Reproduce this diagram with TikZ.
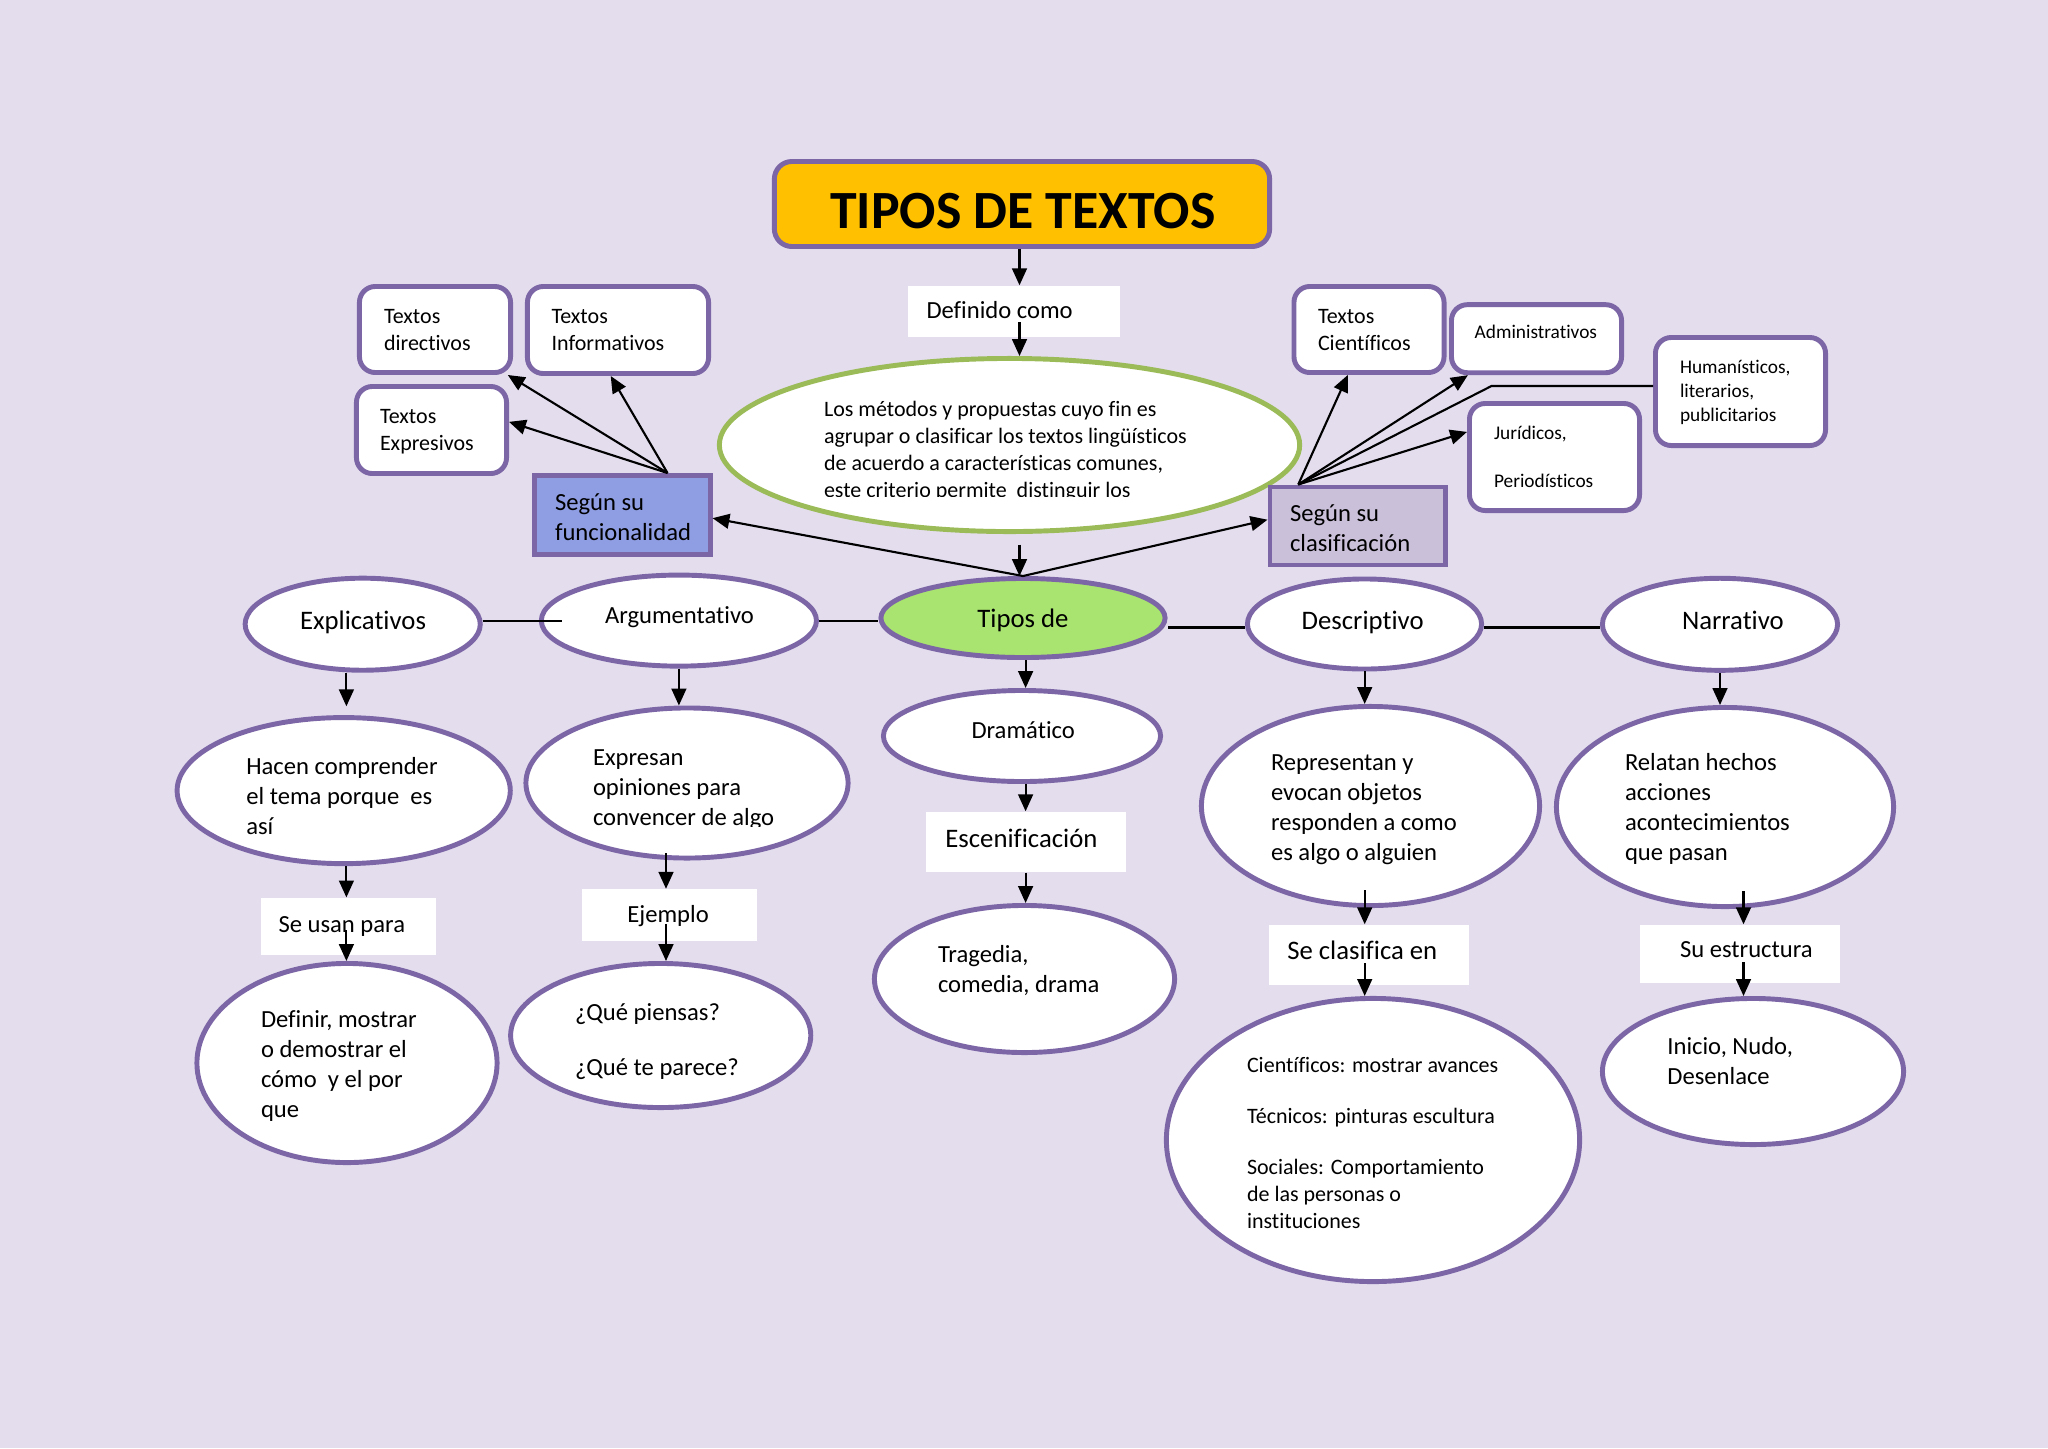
\documentclass[tikz,border=0pt]{standalone}
\usepackage{fontspec}
\setmainfont{Carlito}[Ligatures=NoCommon]
\usepackage{tikz}
\usetikzlibrary{arrows.meta, positioning, shapes.geometric}

\definecolor{bgpurple}{HTML}{E3DDEE}
\definecolor{linepurple}{HTML}{7C66A6}
\definecolor{linegreen}{HTML}{9BBB59}
\definecolor{titleorange}{HTML}{FFC000}
\definecolor{funcblue}{HTML}{8F9EE3}
\definecolor{clasmauve}{HTML}{CBC0DA}
\definecolor{tiposgreen}{HTML}{A8E46F}

% one px of the reference
\newlength{\pxu}
\setlength{\pxu}{0.01cm}
% left edge and first baseline of the text, measured from the node centre
\newcommand{\boxtext}[3]{\raisebox{\dimexpr-#2\pxu-1.2\pxu\relax}[0pt][0pt]{\makebox[0pt][l]{\hspace*{#1\pxu}\begin{tabular}[t]{@{}l@{}}#3\end{tabular}}}}

\tikzset{
    fontA/.style={font=\fontsize{7}{8.54}\selectfont},
    fontB/.style={font=\fontsize{6.26}{7.68}\selectfont},
    fontC/.style={font=\fontsize{5.5}{6.83}\selectfont},
    fontL/.style={font=\fontsize{7.6}{9}\selectfont},
    oval/.style={ellipse, draw=linepurple, fill=white, line width=1.4pt, inner sep=0pt, fontA},
    card/.style={rectangle, rounded corners=4.5pt, draw=linepurple, fill=white, line width=1.4pt, inner sep=0pt, fontB},
    plate/.style={rectangle, draw=linepurple, line width=1.4pt, inner sep=0pt, fontA},
    tag/.style={rectangle, fill=white, inner sep=0pt, fontL},
    arr/.style={-{Triangle[width=4.2pt,length=4.8pt]}, line width=0.6pt, black},
    link/.style={line width=0.6pt, black}
}

\begin{document}
\begin{tikzpicture}[x=0.01cm, y=-0.01cm]
    \fill[bgpurple] (0,0) rectangle (2048,1448);
    \useasboundingbox (0,0) rectangle (2048,1448);
    \coordinate (axisT) at (1019.5,0);
    \coordinate (axisD) at (1025.6,0);
    \coordinate (axisR) at (1364.7,0);
    \coordinate (axisN) at (1743.5,0);
    \coordinate (axisE) at (346.4,0);
    \coordinate (axisQ) at (666,0);

    % Title and definition
    \node[rectangle, rounded corners=5pt, draw=linepurple, fill=titleorange, line width=1.4pt, inner sep=0pt,
        minimum width=4.95cm, minimum height=0.85cm, font=\fontsize{15.3}{18}\selectfont\bfseries] (title) at (1022,204)
        {\boxtext{-192}{23.5}{TIPOS DE TEXTOS}};
    \node[tag, fontA, minimum width=2.12cm, minimum height=0.51cm] (defi) at (1014,311.5) {\boxtext{-87.5}{6}{Definido como}};
    \node[oval, draw=linegreen, minimum width=5.8cm, minimum height=1.73cm, fontB] (main) at (1009.5,445)
        {\boxtext{-185.5}{-30}{Los métodos y propuestas cuyo fin es\\agrupar o clasificar los textos lingüísticos\\de acuerdo a características comunes,\\este criterio permite\ \ distinguir los}};
    \fill[white] (815,496.5) rectangle (1140,506);

    % Left group
    \node[card, minimum width=1.51cm, minimum height=0.86cm] (dire) at (435,329.5) {\boxtext{-51}{-7.5}{Textos\\directivos}};
    \node[card, minimum width=1.81cm, minimum height=0.87cm] (info) at (618,330) {\boxtext{-66.5}{-8}{Textos\\Informativos}};
    \node[card, minimum width=1.50cm, minimum height=0.87cm] (expr) at (431.5,430) {\boxtext{-51.5}{-8}{Textos\\Expresivos}};
    \node[plate, fill=funcblue, minimum width=1.75cm, minimum height=0.79cm] (func) at (622.5,515) {\boxtext{-67.5}{-6}{Según su\\funcionalidad}};

    % Right group
    \node[card, minimum width=1.50cm, minimum height=0.86cm] (cient) at (1369,329.5) {\boxtext{-51}{-7.5}{Textos\\Científicos}};
    \node[card, minimum width=1.70cm, minimum height=0.68cm, fontC] (admin) at (1536.5,338.7) {\boxtext{-61.8}{-1.5}{Administrativos}};
    \node[card, minimum width=1.70cm, minimum height=1.08cm, fontC] (human) at (1740.5,391.5) {\boxtext{-60.5}{-19.5}{Humanísticos,\\literarios,\\publicitarios}};
    \node[card, minimum width=1.70cm, minimum height=1.07cm, fontC] (jurid) at (1554.5,457) {\boxtext{-60.5}{-19}{Jurídicos,\\[6.8pt]Periodísticos}};
    \node[plate, fill=clasmauve, minimum width=1.75cm, minimum height=0.78cm] (clas) at (1357.5,526) {\boxtext{-67.5}{-5.5}{Según su\\clasificación}};

    % Row of text types
    \node[oval, minimum width=2.35cm, minimum height=0.92cm, fontL] (expl) at (362.7,624.2) {\boxtext{-62.7}{4}{Explicativos}};
    \node[oval, minimum width=2.75cm, minimum height=0.91cm] (argu) at (678.9,620.6) {\boxtext{-73.9}{1.9}{Argumentativo}};
    \node[oval, fill=tiposgreen, minimum width=2.84cm, minimum height=0.79cm, fontL] (tipos) at (1023,618) {\boxtext{-45.6}{8.5}{Tipos de}};
    \node[oval, minimum width=2.34cm, minimum height=0.90cm, fontL] (desc) at (1364.5,624) {\boxtext{-62.8}{4}{Descriptivo}};
    \node[oval, minimum width=2.35cm, minimum height=0.92cm, fontL] (narr) at (1720,624.3) {\boxtext{-38}{3.7}{Narrativo}};

    % Explicativos column
    \node[oval, minimum width=3.33cm, minimum height=1.46cm] (hacen) at (343.7,790.6) {\boxtext{-97.4}{-17.7}{Hacen comprender\\el tema porque\ \ es\\así}};
    \node[tag, fontA, minimum width=1.75cm, minimum height=0.57cm] (usan) at (348.5,926.6) {\boxtext{-70}{4.2}{Se usan para}};
    \node[oval, minimum width=3.00cm, minimum height=1.99cm] (defin) at (347,1063) {\boxtext{-86}{-36.5}{Definir, mostrar\\o demostrar el\\cómo\ \ y el por\\que}};

    % Argumentativo column
    \node[oval, minimum width=3.22cm, minimum height=1.50cm] (expre) at (687,783) {\boxtext{-94}{-18.8}{Expresan\\opiniones para\\convencer de algo}};
    \fill[white] (590,826.5) rectangle (780,838);
    \node[tag, fontA, minimum width=1.75cm, minimum height=0.51cm] (ejem) at (669.5,915) {\boxtext{-42.1}{6.7}{Ejemplo}};
    \node[oval, minimum width=3.00cm, minimum height=1.44cm] (preg) at (660.7,1035.5) {\boxtext{-85.7}{-16.2}{¿Qué piensas?\\[7pt]¿Qué te parece?}};

    % Dramatico column
    \node[oval, minimum width=2.77cm, minimum height=0.91cm] (dram) at (1022,736) {\boxtext{-50.5}{1.2}{Dramático}};
    \node[tag, minimum width=2.00cm, minimum height=0.60cm] (esce) at (1026,842) {\boxtext{-80.6}{4}{Escenificación}};
    \node[oval, minimum width=3.00cm, minimum height=1.47cm] (trag) at (1024.5,979) {\boxtext{-86.5}{-18}{Tragedia,\\comedia, drama}};

    % Descriptivo column
    \node[oval, minimum width=3.38cm, minimum height=1.99cm] (repre) at (1370.5,806) {\boxtext{-99.5}{-36.5}{Representan y\\evocan objetos\\responden a como\\es algo o alguien}};
    \node[tag, minimum width=1.99cm, minimum height=0.60cm] (sclas) at (1369,955) {\boxtext{-81.7}{3}{Se clasifica en}};
    \node[oval, minimum width=4.13cm, minimum height=2.83cm, fontB] (socia) at (1373,1140) {\boxtext{-126}{-68.3}{Científicos: mostrar avances\\[6.7pt]Técnicos: pinturas escultura\\[6.7pt]Sociales: Comportamiento\\de las personas o\\instituciones}};

    % Narrativo column
    \node[oval, minimum width=3.37cm, minimum height=1.99cm] (relat) at (1725,807) {\boxtext{-100}{-37.5}{Relatan hechos\\acciones\\acontecimientos\\que pasan}};
    \node[tag, fontA, minimum width=2.00cm, minimum height=0.58cm] (estru) at (1740,954) {\boxtext{-60}{2.7}{Su estructura}};
    \node[oval, minimum width=3.01cm, minimum height=1.46cm] (inici) at (1753,1071.5) {\boxtext{-85.6}{-18.5}{Inicio, Nudo,\\Desenlace}};

    % Arrows down the centre
    \draw[arr] (title.south -| axisT) -- (defi.north -| axisT);
    \draw[arr] ([yshift=-3pt]defi.center -| axisT) -- (main.north -| axisT);
    \draw[arr] ([yshift=-3pt]main.south -| axisT) -- (tipos.north -| axisT);

    % Arrows from the green node to both plates
    \draw[arr] (tipos.north) -- (func.-2);
    \draw[arr] (tipos.north) -- (clas.176);

    % Arrows fanning out of the plates
    \draw[arr] (func.43) -- (dire.-32);
    \draw[arr] (func.43) -- (info.261);
    \draw[arr] (func.43) -- (expr.6);
    \draw[arr] (clas.145) -- (cient.245);
    \draw[arr] (clas.145) -- (admin.208);
    \draw[arr] (clas.145) -- (jurid.164);
    \coordinate (humanKnee) at (1491.5,386);
    \draw[link] (clas.145) -- (humanKnee) -- (human.west |- humanKnee);

    % Plain links along the row
    \draw[link] (expl.east |- argu.center) -- ([xshift=6.5pt]argu.west);
    \draw[link] (argu.east) -- (tipos.west |- argu.center);
    \draw[link] ([yshift=-1pt]desc.west) -- ([yshift=-1pt]desc.west -| tipos.east);
    \draw[link] ([yshift=-1pt]desc.east) -- ([yshift=-1pt]desc.east -| narr.west);

    % Arrows down the columns
    \draw[arr] (expl.south -| axisE) -- ([yshift=2.5pt]hacen.north -| axisE);
    \draw[arr] (hacen.south -| axisE) -- (usan.north -| axisE);
    \draw[arr] ([yshift=-1pt]usan.center -| axisE) -- (defin.north -| axisE);
    \draw[arr] (argu.south) -- (argu.south |- expre.north);
    \draw[arr] ([yshift=2pt]expre.south -| axisQ) -- (ejem.north -| axisQ);
    \draw[arr] ([yshift=-2.5pt]ejem.center -| axisQ) -- (preg.north -| axisQ);
    \draw[arr] (tipos.south -| axisD) -- (dram.north -| axisD);
    \draw[arr] (dram.south -| axisD) -- (esce.north -| axisD);
    \draw[arr] (esce.south -| axisD) -- (trag.north -| axisD);
    \draw[arr] (desc.south -| axisR) -- (repre.north -| axisR);
    \draw[arr] ([yshift=5pt]repre.south -| axisR) -- (sclas.north -| axisR);
    \draw[arr] ([yshift=-2.3pt]sclas.center -| axisR) -- (socia.north -| axisR);
    \draw[arr] (narr.south) -- (narr.south |- relat.north);
    \draw[arr] ([yshift=5pt]relat.south -| axisN) -- (estru.north -| axisN);
    \draw[arr] ([yshift=-2.3pt]estru.center -| axisN) -- (inici.north -| axisN);
\end{tikzpicture}
\end{document}
